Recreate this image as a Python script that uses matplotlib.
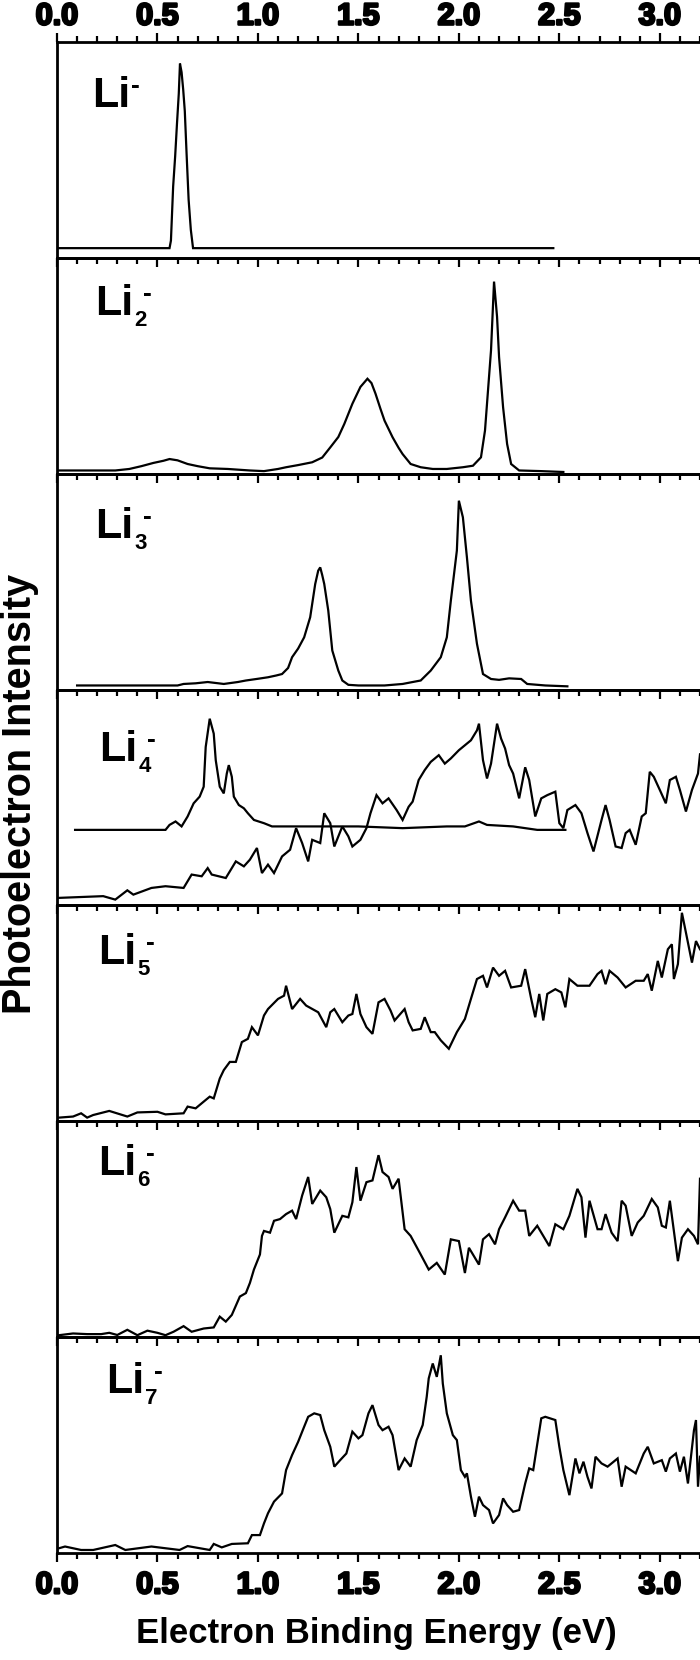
"""Photoelectron spectra of Li_n^- clusters (n = 1..7), stacked panels."""

import matplotlib

matplotlib.use("Agg")

import matplotlib.patheffects as pe
import matplotlib.pyplot as plt
from matplotlib import font_manager
from matplotlib.ticker import FormatStrFormatter, MultipleLocator


def pick_font(names):
    for name in names:
        try:
            font_manager.findfont(name, fallback_to_default=False)
            return name
        except ValueError:
            continue
    return "DejaVu Sans"


BOLD = pick_font(["Liberation Sans", "Arial", "DejaVu Sans"])

plt.rcParams["font.family"] = [BOLD, "DejaVu Sans"]
plt.rcParams["font.weight"] = "bold"

# ---- data (binding energy in eV, intensity normalised to panel height) ----
li1_x = [0.00, 0.560, 0.567, 0.578, 0.588, 0.597, 0.606, 0.612, 0.620, 0.628,
         0.636, 0.645, 0.655, 0.666, 0.677, 2.47]
li1_y = [0.045, 0.045, 0.08, 0.33, 0.47, 0.62, 0.76, 0.90, 0.86, 0.78,
         0.68, 0.48, 0.27, 0.13, 0.045, 0.045]

li2_x = [0.00, 0.29, 0.36, 0.42, 0.48, 0.53, 0.56, 0.60, 0.65, 0.70, 0.76, 0.85,
         0.96, 1.03, 1.10, 1.14, 1.20, 1.27, 1.32, 1.36, 1.40, 1.43, 1.47, 1.51,
         1.545, 1.565, 1.585, 1.61, 1.63, 1.67, 1.70, 1.72, 1.76, 1.81, 1.87,
         1.94, 2.02, 2.07, 2.11, 2.13, 2.14, 2.16, 2.175, 2.19, 2.20, 2.22, 2.24,
         2.26, 2.30, 2.41, 2.52]
li2_y = [0.015, 0.015, 0.022, 0.035, 0.050, 0.060, 0.068, 0.062, 0.045, 0.035,
         0.025, 0.022, 0.015, 0.012, 0.022, 0.030, 0.040, 0.053, 0.075, 0.122,
         0.170, 0.231, 0.324, 0.402, 0.44, 0.42, 0.371, 0.30, 0.246, 0.169, 0.12,
         0.091, 0.045, 0.030, 0.022, 0.022, 0.030, 0.037, 0.076, 0.20, 0.324,
         0.572, 0.89, 0.727, 0.541, 0.308, 0.138, 0.045, 0.015, 0.012, 0.008]

li3_x = [0.10, 0.60, 0.63, 0.69, 0.75, 0.83, 0.90, 0.94, 1.00, 1.05, 1.09, 1.12,
         1.15, 1.17, 1.20, 1.23, 1.26, 1.285, 1.30, 1.31, 1.32, 1.33, 1.35, 1.37,
         1.40, 1.42, 1.45, 1.50, 1.63, 1.72, 1.77, 1.81, 1.86, 1.91, 1.94, 1.96,
         1.99, 2.00, 2.02, 2.04, 2.06, 2.09, 2.12, 2.16, 2.20, 2.25, 2.31, 2.34,
         2.43, 2.54]
li3_y = [0.019, 0.019, 0.026, 0.029, 0.035, 0.026, 0.035, 0.042, 0.050, 0.057,
         0.065, 0.072, 0.100, 0.150, 0.190, 0.242, 0.335, 0.489, 0.551, 0.566,
         0.530, 0.489, 0.366, 0.181, 0.088, 0.042, 0.022, 0.019, 0.019, 0.026,
         0.035, 0.042, 0.088, 0.150, 0.242, 0.412, 0.644, 0.875, 0.798, 0.613,
         0.412, 0.212, 0.072, 0.049, 0.045, 0.052, 0.049, 0.026, 0.019, 0.015]

li4a_x = [0.09, 0.54, 0.56, 0.59, 0.62, 0.65, 0.68, 0.71, 0.73, 0.74, 0.76, 0.78,
          0.79, 0.81, 0.83, 0.845, 0.855, 0.87, 0.88, 0.905, 0.93, 0.95, 0.98,
          1.03, 1.07, 1.14, 1.27, 1.50, 1.72, 1.94, 2.03, 2.10, 2.14, 2.27, 2.39,
          2.53]
li4a_y = [0.350, 0.350, 0.373, 0.389, 0.366, 0.412, 0.473, 0.504, 0.550, 0.734,
          0.865, 0.796, 0.673, 0.550, 0.519, 0.611, 0.650, 0.596, 0.504, 0.465,
          0.450, 0.427, 0.396, 0.381, 0.366, 0.366, 0.366, 0.366, 0.358, 0.366,
          0.366, 0.389, 0.373, 0.366, 0.350, 0.350]

li4b_x = [0.01, 0.23, 0.29, 0.35, 0.38, 0.47, 0.54, 0.63, 0.67, 0.72, 0.75, 0.77,
          0.84, 0.87, 0.89, 0.93, 0.96, 0.995, 1.02, 1.05, 1.08, 1.12, 1.16, 1.19,
          1.22, 1.25, 1.27, 1.31, 1.33, 1.36, 1.38, 1.42, 1.45, 1.47, 1.51, 1.54,
          1.56, 1.59, 1.62, 1.65, 1.69, 1.72, 1.75, 1.77, 1.80, 1.83, 1.86, 1.90,
          1.93, 1.96, 2.00, 2.03, 2.06, 2.09, 2.10, 2.12, 2.14, 2.16, 2.19, 2.21,
          2.23, 2.25, 2.27, 2.30, 2.33, 2.35, 2.38, 2.41, 2.44, 2.48, 2.50, 2.52,
          2.54, 2.58, 2.61, 2.64, 2.67, 2.71, 2.73, 2.75, 2.78, 2.81, 2.83, 2.85,
          2.88, 2.91, 2.93, 2.95, 2.97, 3.00, 3.03, 3.05, 3.08, 3.10, 3.13, 3.16,
          3.19, 3.20]
li4b_y = [0.035, 0.043, 0.027, 0.070, 0.050, 0.081, 0.089, 0.081, 0.143, 0.135,
          0.173, 0.143, 0.127, 0.173, 0.204, 0.181, 0.212, 0.266, 0.150, 0.189,
          0.150, 0.227, 0.258, 0.358, 0.289, 0.204, 0.304, 0.289, 0.427, 0.381,
          0.273, 0.366, 0.320, 0.273, 0.304, 0.358, 0.427, 0.511, 0.473, 0.496,
          0.442, 0.396, 0.457, 0.481, 0.581, 0.627, 0.665, 0.696, 0.657, 0.681,
          0.719, 0.742, 0.765, 0.811, 0.842, 0.673, 0.588, 0.657, 0.842, 0.773,
          0.727, 0.650, 0.611, 0.496, 0.640, 0.581, 0.412, 0.496, 0.511, 0.527,
          0.381, 0.358, 0.442, 0.465, 0.427, 0.335, 0.250, 0.396, 0.465, 0.396,
          0.273, 0.266, 0.335, 0.350, 0.281, 0.412, 0.427, 0.619, 0.596, 0.535,
          0.473, 0.581, 0.596, 0.535, 0.435, 0.535, 0.611, 0.70]

li5_x = [0.01, 0.08, 0.12, 0.15, 0.18, 0.26, 0.35, 0.40, 0.50, 0.54, 0.63, 0.65,
         0.69, 0.73, 0.76, 0.78, 0.81, 0.83, 0.86, 0.89, 0.92, 0.95, 0.97, 1.00,
         1.03, 1.05, 1.10, 1.13, 1.14, 1.17, 1.21, 1.24, 1.30, 1.34, 1.36, 1.38,
         1.42, 1.45, 1.47, 1.49, 1.51, 1.54, 1.57, 1.60, 1.63, 1.66, 1.68, 1.73,
         1.75, 1.77, 1.81, 1.83, 1.86, 1.88, 1.91, 1.95, 1.99, 2.03, 2.06, 2.09,
         2.12, 2.14, 2.17, 2.20, 2.23, 2.26, 2.31, 2.33, 2.36, 2.38, 2.40, 2.42,
         2.44, 2.48, 2.51, 2.53, 2.55, 2.59, 2.65, 2.69, 2.71, 2.73, 2.75, 2.79,
         2.83, 2.88, 2.92, 2.94, 2.96, 2.99, 3.01, 3.04, 3.06, 3.07, 3.09, 3.11,
         3.13, 3.16, 3.18, 3.20]
li5_y = [0.017, 0.022, 0.037, 0.017, 0.029, 0.048, 0.022, 0.041, 0.044, 0.032,
         0.037, 0.068, 0.060, 0.091, 0.114, 0.106, 0.198, 0.237, 0.275, 0.275,
         0.367, 0.382, 0.436, 0.398, 0.490, 0.520, 0.567, 0.582, 0.628, 0.520,
         0.567, 0.536, 0.505, 0.436, 0.505, 0.520, 0.459, 0.490, 0.497, 0.590,
         0.497, 0.436, 0.405, 0.551, 0.567, 0.513, 0.467, 0.520, 0.459, 0.421,
         0.428, 0.482, 0.413, 0.413, 0.375, 0.336, 0.413, 0.474, 0.567, 0.659,
         0.674, 0.620, 0.712, 0.674, 0.697, 0.620, 0.628, 0.705, 0.567, 0.482,
         0.590, 0.467, 0.590, 0.612, 0.597, 0.528, 0.659, 0.628, 0.628, 0.682,
         0.697, 0.635, 0.697, 0.666, 0.620, 0.651, 0.651, 0.682, 0.605, 0.743,
         0.666, 0.797, 0.820, 0.659, 0.728, 0.966, 0.874, 0.735, 0.835, 0.797]

li6_x = [0.01, 0.08, 0.15, 0.22, 0.26, 0.30, 0.35, 0.40, 0.45, 0.50, 0.54, 0.58,
         0.63, 0.67, 0.73, 0.78, 0.81, 0.84, 0.87, 0.91, 0.94, 0.96, 0.98, 1.01,
         1.02, 1.03, 1.06, 1.08, 1.11, 1.14, 1.17, 1.19, 1.22, 1.25, 1.27, 1.31,
         1.34, 1.36, 1.38, 1.42, 1.45, 1.47, 1.49, 1.51, 1.54, 1.57, 1.60, 1.62,
         1.65, 1.67, 1.70, 1.73, 1.76, 1.81, 1.85, 1.89, 1.93, 1.96, 2.00, 2.03,
         2.05, 2.07, 2.10, 2.12, 2.15, 2.18, 2.20, 2.23, 2.27, 2.30, 2.33, 2.35,
         2.39, 2.42, 2.45, 2.48, 2.52, 2.55, 2.59, 2.61, 2.63, 2.65, 2.69, 2.71,
         2.73, 2.76, 2.79, 2.81, 2.83, 2.86, 2.89, 2.92, 2.96, 2.99, 3.01, 3.03,
         3.05, 3.08, 3.09, 3.11, 3.14, 3.17, 3.19, 3.20]
li6_y = [0.009, 0.017, 0.014, 0.014, 0.020, 0.010, 0.034, 0.009, 0.030, 0.020,
         0.009, 0.025, 0.051, 0.025, 0.040, 0.045, 0.095, 0.072, 0.103, 0.188,
         0.204, 0.251, 0.313, 0.383, 0.469, 0.492, 0.484, 0.539, 0.547, 0.570,
         0.586, 0.547, 0.656, 0.742, 0.617, 0.679, 0.648, 0.593, 0.484, 0.562,
         0.555, 0.625, 0.788, 0.632, 0.718, 0.726, 0.843, 0.765, 0.742, 0.687,
         0.734, 0.500, 0.469, 0.383, 0.313, 0.344, 0.290, 0.453, 0.445, 0.297,
         0.414, 0.383, 0.336, 0.453, 0.477, 0.430, 0.500, 0.555, 0.632, 0.586,
         0.586, 0.469, 0.516, 0.469, 0.422, 0.523, 0.500, 0.562, 0.687, 0.648,
         0.461, 0.632, 0.500, 0.500, 0.570, 0.484, 0.445, 0.632, 0.609, 0.469,
         0.531, 0.562, 0.640, 0.601, 0.516, 0.508, 0.632, 0.422, 0.352, 0.461,
         0.500, 0.469, 0.430, 0.734]

li7_x = [0.01, 0.04, 0.12, 0.18, 0.29, 0.34, 0.47, 0.61, 0.65, 0.76, 0.78, 0.82,
         0.87, 0.95, 0.97, 1.01, 1.03, 1.05, 1.08, 1.12, 1.14, 1.17, 1.20, 1.23,
         1.25, 1.28, 1.31, 1.33, 1.36, 1.38, 1.41, 1.44, 1.47, 1.50, 1.52, 1.55,
         1.57, 1.60, 1.62, 1.65, 1.67, 1.70, 1.73, 1.76, 1.79, 1.82, 1.84, 1.85,
         1.87, 1.89, 1.91, 1.92, 1.94, 1.97, 1.99, 2.01, 2.03, 2.04, 2.06, 2.08,
         2.10, 2.12, 2.15, 2.17, 2.20, 2.22, 2.24, 2.27, 2.30, 2.33, 2.35, 2.37,
         2.41, 2.43, 2.48, 2.50, 2.52, 2.55, 2.58, 2.60, 2.62, 2.64, 2.66, 2.68,
         2.71, 2.74, 2.79, 2.81, 2.83, 2.88, 2.92, 2.94, 2.97, 3.01, 3.03, 3.05,
         3.08, 3.10, 3.12, 3.14, 3.17, 3.18, 3.19, 3.20]
li7_y = [0.022, 0.030, 0.014, 0.014, 0.037, 0.014, 0.030, 0.014, 0.032, 0.014,
         0.042, 0.026, 0.042, 0.045, 0.083, 0.083, 0.137, 0.184, 0.238, 0.276,
         0.384, 0.454, 0.515, 0.585, 0.631, 0.647, 0.639, 0.569, 0.492, 0.400,
         0.431, 0.461, 0.562, 0.531, 0.546, 0.647, 0.685, 0.593, 0.569, 0.585,
         0.546, 0.384, 0.438, 0.400, 0.523, 0.593, 0.724, 0.809, 0.878, 0.816,
         0.916, 0.785, 0.647, 0.546, 0.523, 0.384, 0.353, 0.369, 0.261, 0.168,
         0.261, 0.222, 0.199, 0.137, 0.176, 0.253, 0.222, 0.191, 0.199, 0.322,
         0.392, 0.384, 0.624, 0.631, 0.616, 0.492, 0.384, 0.268, 0.438, 0.369,
         0.423, 0.353, 0.299, 0.446, 0.415, 0.400, 0.438, 0.307, 0.400, 0.369,
         0.461, 0.492, 0.415, 0.430, 0.377, 0.438, 0.461, 0.377, 0.446, 0.322,
         0.569, 0.616, 0.307, 0.446]

cluster_sizes = ["", "2", "3", "4", "5", "6", "7"]
panels = [
    [(li1_x, li1_y)],
    [(li2_x, li2_y)],
    [(li3_x, li3_y)],
    [(li4a_x, li4a_y), (li4b_x, li4b_y)],
    [(li5_x, li5_y)],
    [(li6_x, li6_y)],
    [(li7_x, li7_y)],
]
label_x = [0.054, 0.060, 0.060, 0.066, 0.064, 0.064, 0.076]
label_y = [0.70, 0.735, 0.70, 0.67, 0.73, 0.75, 0.74]

# ---- layout (pixels of a 700x1660 canvas) ----
W, H = 700, 1660
LEFT, TOP, BOTTOM = 57, 42, 1553
PANEL_H = (BOTTOM - TOP) / len(panels)

fig = plt.figure(figsize=(W / 100, H / 100), dpi=100)
heavy = [pe.withStroke(linewidth=1.8, foreground="black")]
label_font = dict(weight="bold", color="black")


def species_label(ax, x, y, n):
    """Draw Li_n^- with a plain short dash as the charge sign."""
    base = ax.text(x, y, "Li", transform=ax.transAxes, fontsize=31,
                   ha="left", va="baseline", **label_font)
    if n:
        ax.annotate(n, xy=(1, 0), xycoords=base, xytext=(0.5, -5),
                    textcoords="offset points", fontsize=16,
                    ha="left", va="bottom", **label_font)
    ax.annotate("-", xy=(1, 0), xycoords=base, xytext=(7 if n else 0.8, 13),
                textcoords="offset points", fontsize=19,
                ha="left", va="bottom", **label_font)


for i, traces in enumerate(panels):
    top_px = TOP + i * PANEL_H
    ax = fig.add_axes([LEFT / W, 1 - (top_px + PANEL_H) / H, 1 - LEFT / W, PANEL_H / H])
    # upper panels sit above lower ones so their outward ticks stay visible
    ax.set_zorder(len(panels) - i)
    ax.patch.set_alpha(0)
    for x, y in traces:
        ax.plot(x, y, color="black", lw=1.6, solid_joinstyle="miter")
    ax.set_xlim(0, 3.2)
    ax.set_ylim(0, 1)
    ax.set_yticks([])
    ax.spines["right"].set_visible(False)
    for side in ("left", "top", "bottom"):
        ax.spines[side].set_linewidth(2.0)
    ax.xaxis.set_major_locator(MultipleLocator(0.5))
    ax.xaxis.set_minor_locator(MultipleLocator(0.1))
    ax.xaxis.set_major_formatter(FormatStrFormatter("%.1f"))
    is_first, is_last = i == 0, i == len(panels) - 1
    ax.tick_params(axis="x", which="both", direction="out", width=1.6,
                   bottom=True, top=is_first, labelbottom=is_last, labeltop=is_first,
                   labelsize=22, pad=1 if is_first else 6)
    ax.tick_params(axis="x", which="major", length=6.5)
    ax.tick_params(axis="x", which="minor", length=4.5)
    for lab in ax.get_xticklabels():
        lab.set_fontweight("bold")
        lab.set_path_effects(heavy)
    species_label(ax, label_x[i], label_y[i], cluster_sizes[i])

fig.text(20 / W, 1 - 794 / H, "Photoelectron Intensity", rotation=90,
         ha="center", va="center", fontsize=28.5, fontweight="bold")
fig.text(376 / W, 1 - 1633 / H, "Electron Binding Energy (eV)",
         ha="center", va="center", fontsize=25, fontweight="bold")

fig.savefig("out.png", dpi=100)
